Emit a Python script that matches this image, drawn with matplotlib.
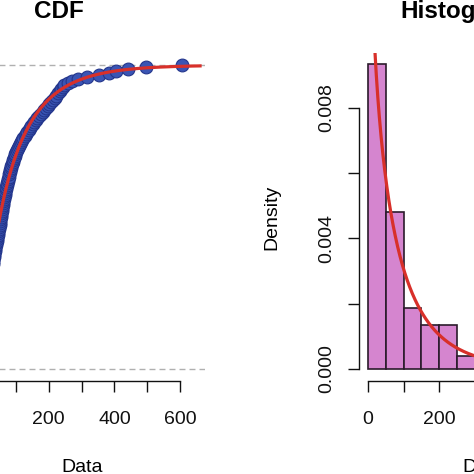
import numpy as np
import matplotlib
matplotlib.use("Agg")
import matplotlib.pyplot as plt

plt.rcParams['font.family'] = ['Liberation Sans', 'DejaVu Sans']

data_bin_0_50 = [0.5, 1, 1, 1.5, 2, 2, 2.5, 3, 3, 3.5,
                 4, 4, 4.5, 5, 5.5, 6, 6.5, 7, 7.5, 8,
                 8.5, 9, 9.5,
                 10, 10.5, 11, 12, 12.5, 13, 14, 14.5, 15, 16,
                 16.5, 17, 18, 18.5, 19.5,
                 20.5, 21, 22, 23, 23.5, 24.5, 25.5, 26, 27, 27.5,
                 28.5, 29, 29.5,
                 30.5, 31.5, 32.5, 33.5, 34.5, 35.5, 36.5, 37.5, 38.5, 39.5,
                 41, 42, 43, 44, 45, 46, 47, 48, 49]
data_bin_50_100 = [51, 52, 53, 54, 55, 56, 57, 58, 59, 60, 61, 62, 63, 64,
                   66, 67, 68, 69, 71, 72, 73, 75, 76, 78, 79, 81, 82, 84,
                   85, 87, 89, 91, 93, 95, 97, 99]
data_bin_100_150 = [101, 104, 107, 110, 113, 116, 119, 123, 127, 131, 135, 140, 144, 148]
data_bin_150_200 = [152, 156, 161, 166, 171, 176, 182, 187, 193, 198]
data_bin_200_250 = [202, 207, 212, 218, 224, 229, 234, 239, 244, 248]
data_bin_250_300 = [258, 272, 290]
data_tail = [318, 352, 384, 405, 442, 497, 606]

data = np.array(data_bin_0_50 + data_bin_50_100 + data_bin_100_150 + data_bin_150_200
                + data_bin_200_250 + data_bin_250_300 + data_tail, dtype=float)

hist_breaks = list(range(0, 651, 50))
x_ticks = [0, 100, 200, 300, 400, 500, 600]
# labels that fall outside the cropped picture are left empty
cdf_x_tick_labels = ['', '', '200', '', '400', '', '600']
hist_x_tick_labels = ['0', '', '200', '', '', '', '']
dens_y_ticks = [0.000, 0.002, 0.004, 0.006, 0.008]
dens_y_tick_labels = ['0.000', '', '0.004', '', '0.008']

# fitted Weibull parameters
weib_shape = 0.85
weib_scale = 80.0

BLUE = '#3a55b4'
BLUE_EDGE = '#24368c'
RED = '#d8302a'
BAR = '#d585cf'
BAR_EDGE = '#2b1b2b'
GRAY = '#b0b0b0'

W = 474.0
fig = plt.figure(figsize=(4.74, 4.74), dpi=100)

def style_axes(ax):
    for s in ['top', 'right']:
        ax.spines[s].set_visible(False)
    for s in ['left', 'bottom']:
        ax.spines[s].set_linewidth(1.0)
        ax.spines[s].set_color('#111111')
    ax.tick_params(axis='both', direction='out', length=7.9, width=1.0,
                   color='#111111', labelsize=14, labelcolor='#111111')
    ax.tick_params(axis='x', pad=14)
    ax.tick_params(axis='y', pad=9)

# ---------- left panel: CDF ----------
ax1 = fig.add_axes([-41 / W, 93 / W, 246 / W, 328 / W])
ax1.set_xlim(-72, 675)
ax1.set_ylim(-0.04, 1.04)
style_axes(ax1)
ax1.spines['bottom'].set_bounds(0, 600)
ax1.spines['left'].set_bounds(0, 1)
ax1.set_xticks(x_ticks)
ax1.set_xticklabels(cdf_x_tick_labels)
ax1.set_yticks([0, 0.2, 0.4, 0.6, 0.8, 1.0])
ax1.set_yticklabels([])

ax1.axhline(0, color=GRAY, lw=1.0, ls=(0, (4.3, 2.9)))
ax1.axhline(1, color=GRAY, lw=1.0, ls=(0, (4.3, 2.9)))

xs = np.sort(data)
F = np.arange(1, len(xs) + 1) / len(xs)
ax1.plot(xs, F, 'o', ms=9.2, mfc=BLUE, mec=BLUE_EDGE, mew=0.8, zorder=3)

xc = np.linspace(0, 660, 600)
Fc = 1 - np.exp(-(xc / weib_scale) ** weib_shape)
ax1.plot(xc, Fc, color=RED, lw=2.3, zorder=4)

ax1.set_title('CDF', fontweight='bold', fontsize=17.5, x=(59 + 41) / 246,
              y=(381 - 18) / 328, pad=0)
ax1.set_xlabel('Data', fontsize=14)
ax1.xaxis.set_label_coords(0.5, (381 - 467) / 328)
ax1.xaxis.label.set_va('center')

# ---------- right panel: Histogram ----------
ax2 = fig.add_axes([358.8 / W, 93 / W, 249.2 / W, 328 / W])
ax2.set_xlim(-26, 676)
ax2.set_ylim(-0.00037, 0.00968)
style_axes(ax2)
ax2.spines['bottom'].set_bounds(0, 600)
ax2.spines['left'].set_bounds(0, 0.008)
ax2.set_xticks(x_ticks)
ax2.set_xticklabels(hist_x_tick_labels)
ax2.set_yticks(dens_y_ticks)
ax2.set_yticklabels(dens_y_tick_labels, rotation=90, va='center')

ax2.hist(data, bins=hist_breaks, density=True, color=BAR, edgecolor=BAR_EDGE,
         linewidth=1.2, zorder=2)

xd = np.linspace(0.5, 676, 800)
fd = (weib_shape / weib_scale) * (xd / weib_scale) ** (weib_shape - 1) * \
    np.exp(-(xd / weib_scale) ** weib_shape)
ax2.plot(xd, fd, color=RED, lw=2.3, zorder=4)

ax2.set_title('Histogram', fontweight='bold', fontsize=17.5,
              x=(460 - 358.8) / 249.2, y=(381 - 18) / 328, pad=0)
ax2.set_xlabel('Data', fontsize=14)
ax2.xaxis.set_label_coords(0.5, (381 - 467) / 328)
ax2.xaxis.label.set_va('center')
ax2.set_ylabel('Density', fontsize=14)
ax2.yaxis.set_label_coords((272 - 358.8) / 249.2, 0.5)
ax2.yaxis.label.set_va('center')

fig.savefig('out.png', dpi=100)
